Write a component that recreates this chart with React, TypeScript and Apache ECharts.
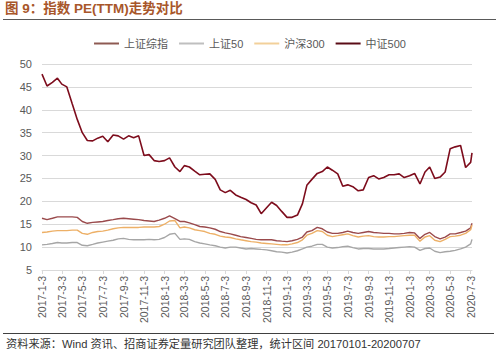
import React, { useEffect, useRef } from "react";
import * as echarts from "echarts";

const months = [
  "2017-01", "2017-02", "2017-03", "2017-04", "2017-05", "2017-06", "2017-07", "2017-08", "2017-09", "2017-10", "2017-11", "2017-12",
  "2018-01", "2018-02", "2018-03", "2018-04", "2018-05", "2018-06", "2018-07", "2018-08", "2018-09", "2018-10", "2018-11", "2018-12",
  "2019-01", "2019-02", "2019-03", "2019-04", "2019-05", "2019-06", "2019-07", "2019-08", "2019-09", "2019-10", "2019-11", "2019-12",
  "2020-01", "2020-02", "2020-03", "2020-04", "2020-05", "2020-06",
];
// sample dates: 3rd and 18th of each month, then 2020-07-03 and 2020-07-07
const dates: string[] = [];
months.forEach((m) => { dates.push(m + "-03"); dates.push(m + "-18"); });
dates.push("2020-07-03");
dates.push("2020-07-07");

const szzz = [
  16.3, 16.0, 16.3, 16.6, 16.6, 16.6, 16.6, 16.5, 15.6, 15.2, 15.4, 15.5, 15.6, 15.8, 16.0, 16.2, 16.3, 16.2, 16.1, 16.0, 15.8, 15.7, 15.6, 15.9,
  16.3, 16.8, 16.2, 15.6, 15.6, 15.3, 14.9, 14.5, 14.4, 14.2, 13.9, 13.4, 13.1, 12.9, 12.6, 12.3, 12.1, 11.9, 11.7, 11.6, 11.6, 11.6, 11.4, 11.3,
  11.2, 11.4, 11.7, 12.2, 13.3, 13.6, 14.3, 14.0, 13.3, 13.0, 13.0, 13.2, 13.5, 13.2, 13.0, 13.2, 13.4, 13.2, 13.1, 13.0, 13.0, 12.9, 12.9, 13.0,
  13.2, 13.1, 11.9, 12.8, 13.2, 12.3, 11.8, 12.2, 12.9, 12.9, 13.2, 13.5, 14.2, 15.2,
];
const sz50 = [
  10.5, 10.6, 10.8, 11.0, 10.9, 10.9, 11.0, 11.0, 10.4, 10.3, 10.6, 10.9, 11.1, 11.3, 11.5, 11.8, 11.9, 11.7, 11.6, 11.6, 11.6, 11.7, 11.6, 11.7,
  12.1, 12.8, 13.0, 11.7, 11.8, 11.7, 11.2, 10.9, 10.7, 10.5, 10.3, 10.0, 9.8, 10.0, 10.0, 9.8, 9.6, 9.7, 9.6, 9.5, 9.4, 9.2, 9.0, 8.9,
  8.7, 8.9, 9.2, 9.6, 10.0, 10.2, 10.6, 10.6, 10.0, 9.8, 9.9, 10.1, 10.2, 9.9, 9.6, 9.7, 9.7, 9.6, 9.6, 9.6, 9.7, 9.8, 9.9, 10.0,
  10.1, 10.0, 9.3, 9.7, 9.8, 9.1, 8.8, 9.0, 9.1, 9.3, 9.6, 10.0, 10.7, 11.7,
];
const hs300 = [
  13.2, 13.3, 13.5, 13.6, 13.6, 13.6, 13.7, 13.7, 13.0, 12.8, 13.2, 13.4, 13.5, 13.7, 14.0, 14.2, 14.3, 14.3, 14.3, 14.3, 14.4, 14.4, 14.4, 14.5,
  15.0, 15.7, 15.8, 14.2, 14.4, 14.2, 13.8, 13.6, 13.4, 13.0, 12.8, 12.4, 12.2, 12.1, 11.8, 11.6, 11.4, 11.2, 11.1, 10.9, 10.8, 10.7, 10.6, 10.5,
  10.5, 10.7, 11.0, 11.6, 12.6, 13.0, 13.6, 13.4, 12.6, 12.3, 12.5, 12.7, 12.9, 12.5, 12.2, 12.4, 12.5, 12.3, 12.2, 12.2, 12.3, 12.3, 12.4, 12.5,
  12.6, 12.6, 11.3, 12.2, 12.5, 11.5, 11.2, 11.7, 12.3, 12.4, 12.6, 13.0, 13.8, 14.8,
];
const zz500 = [
  47.8, 45.2, 46.0, 46.9, 45.6, 45.0, 41.3, 37.9, 35.0, 33.3, 33.2, 33.8, 34.2, 33.0, 34.5, 34.3, 33.6, 34.3, 33.9, 34.3, 30.0, 30.2, 28.9, 28.7,
  28.9, 29.5, 27.5, 26.5, 27.8, 27.5, 26.6, 25.8, 25.9, 26.0, 24.8, 22.5, 21.9, 22.4, 21.4, 20.9, 20.4, 19.7, 19.2, 17.3, 18.6, 19.8, 19.1, 17.8,
  16.5, 16.5, 17.0, 19.5, 23.5, 24.8, 26.1, 26.5, 27.5, 26.8, 26.0, 23.3, 23.6, 23.2, 22.3, 22.5, 25.2, 25.6, 24.9, 25.2, 25.8, 25.8, 26.0, 25.2,
  25.6, 26.1, 23.8, 26.4, 27.5, 25.0, 25.3, 26.4, 31.5, 31.9, 32.2, 27.4, 28.5, 30.6,
];

const tickDates = [
  "2017-01-03", "2017-03-03", "2017-05-03", "2017-07-03", "2017-09-03", "2017-11-03",
  "2018-01-03", "2018-03-03", "2018-05-03", "2018-07-03", "2018-09-03", "2018-11-03",
  "2019-01-03", "2019-03-03", "2019-05-03", "2019-07-03", "2019-09-03", "2019-11-03",
  "2020-01-03", "2020-03-03", "2020-05-03", "2020-07-03",
];

const seriesNames = ["上证综指", "上证50", "沪深300", "中证500"];
const seriesColors = ["#9A4A4C", "#A6A6A6", "#EDB067", "#7D0C1C"];
const legendColors = ["#8E5A52", "#BFBFBF", "#F2D09A", "#5A0C16"];

const FONT = "'Liberation Sans', 'Noto Sans CJK SC', sans-serif";

const toTs = (s: string) => {
  const [y, m, d] = s.split("-").map(Number);
  return Date.UTC(y, m - 1, d);
};
const fmtTs = (v: number) => {
  const d = new Date(v);
  return `${d.getUTCFullYear()}-${d.getUTCMonth() + 1}-${d.getUTCDate()}`;
};

export default function App() {
  const ref = useRef<HTMLDivElement>(null);
  useEffect(() => {
    if (!ref.current) return;
    const chart = echarts.init(ref.current, undefined, { renderer: "svg" });
    const allValues = [szzz, sz50, hs300, zz500];
    const tickTs = tickDates.map(toTs);
    const option: any = {
      animation: false,
      backgroundColor: "#ffffff",
      textStyle: { fontFamily: FONT },
      grid: { left: 42, top: 64, width: 430, height: 206, containLabel: false },
      legend: {
        top: 33,
        left: "center",
        itemWidth: 25,
        itemHeight: 2,
        itemGap: 11,
        icon: "rect",
        textStyle: { color: "#595959", fontSize: 11, fontFamily: FONT },
        data: seriesNames.map((n, i) => ({ name: n, itemStyle: { color: legendColors[i] } })),
      },
      xAxis: {
        type: "value",
        min: toTs(dates[0]),
        max: toTs(dates[dates.length - 1]),
        axisLine: { lineStyle: { color: "#D9D9D9", width: 1 } },
        axisTick: { show: true, customValues: tickTs, length: 4, lineStyle: { color: "#D9D9D9" } },
        splitLine: { show: false },
        axisLabel: {
          customValues: tickTs,
          rotate: 90,
          margin: 6,
          fontSize: 10.5,
          color: "#595959",
          fontFamily: FONT,
          formatter: (v: number) => fmtTs(v),
        },
      },
      yAxis: {
        type: "value",
        min: 5,
        max: 50,
        interval: 5,
        axisLine: { show: false },
        axisTick: { show: false },
        splitLine: { lineStyle: { color: "#D9D9D9", width: 1 } },
        axisLabel: { color: "#595959", fontSize: 11, margin: 10, fontFamily: FONT },
      },
      series: seriesNames.map((name, i) => ({
        name,
        type: "line",
        showSymbol: false,
        symbol: "none",
        data: dates.map((d, k) => [toTs(d), allValues[i][k]]),
        lineStyle: { color: seriesColors[i], width: i === 3 ? 1.6 : 1.4 },
        itemStyle: { color: seriesColors[i] },
        z: i === 3 ? 5 : 3,
      })),
      graphic: [
        {
          type: "text",
          left: 5,
          top: 2,
          style: { text: "图 9：指数 PE(TTM)走势对比", fill: "#A8562A", font: `bold 13.5px ${FONT}` },
        },
        { type: "line", shape: { x1: 3, y1: 19.5, x2: 496, y2: 19.5 }, style: { stroke: "#595959", lineWidth: 1.2 } },
        { type: "line", shape: { x1: 3, y1: 333.5, x2: 494, y2: 333.5 }, style: { stroke: "#404040", lineWidth: 1 } },
        {
          type: "text",
          left: 6,
          top: 338,
          style: {
            text: "资料来源：Wind 资讯、招商证券定量研究团队整理，统计区间 20170101-20200707",
            fill: "#333333",
            font: `11.2px ${FONT}`,
          },
        },
      ],
    };
    chart.setOption(option);
    return () => chart.dispose();
  }, []);
  return (
    <div
      ref={ref}
      style={{ position: "absolute", left: 0, top: 0, width: 500, height: 360 }}
    />
  );
}
